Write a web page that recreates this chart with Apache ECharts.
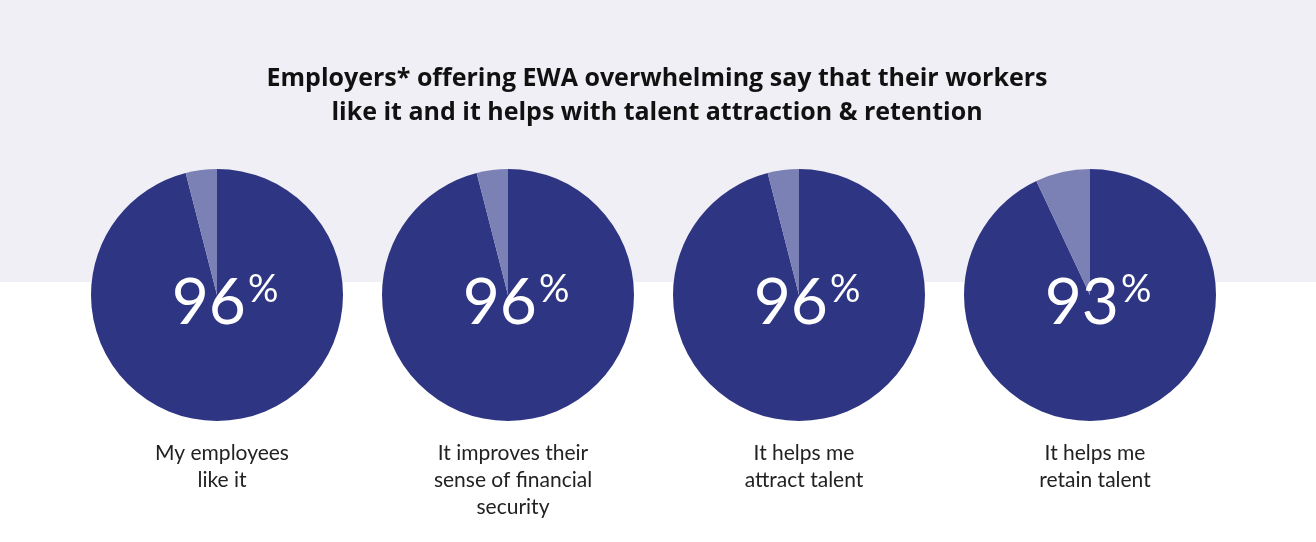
<!DOCTYPE html>
<html>
<head>
<meta charset="utf-8">
<script src="https://cdn.jsdelivr.net/npm/echarts@6/dist/echarts.min.js"></script>
<style>
  html, body { margin: 0; padding: 0; background: #fff; }
  #chart { width: 1316px; height: 542px; }
</style>
</head>
<body>
<div id="chart"></div>
<script>
const categories = ['My employees\nlike it', 'It improves their\nsense of financial\nsecurity', 'It helps me\nattract talent', 'It helps me\nretain talent']
const agree = [96, 96, 96, 93]
const rest = [4, 4, 4, 7]

const centersX = [217, 508, 799, 1090]
const centerY = 295
const darkColor = '#2e3582'
const lightColor = '#7b80b5'
const fontFamily = 'Lato, "Open Sans", sans-serif'

const chart = echarts.init(document.getElementById('chart'))

const series = categories.map((name, i) => ({
  type: 'pie',
  center: [centersX[i], centerY],
  radius: [0, 126],
  startAngle: 90,
  clockwise: true,
  silent: true,
  z: 2,
  labelLine: { show: false },
  data: [
    {
      value: agree[i],
      name: name,
      itemStyle: { color: darkColor },
      label: {
        show: true,
        position: 'center',
        offset: [8, 8],
        formatter: '{n|' + agree[i] + '}{p|%}',
        rich: {
          n: { fontSize: 64, fontWeight: 'normal', color: '#fff', fontFamily: fontFamily },
          p: { fontSize: 38, fontWeight: 'normal', color: '#fff', fontFamily: fontFamily, verticalAlign: 'top', padding: [0, 0, 0, 2] }
        }
      }
    },
    {
      value: rest[i],
      name: 'other',
      itemStyle: { color: lightColor },
      label: { show: false }
    }
  ]
}))

const titles = [{
  text: 'Employers* offering EWA overwhelming say that their workers\nlike it and it helps with talent attraction & retention',
  left: 652,
  top: 57,
  textAlign: 'center',
  textStyle: { fontSize: 25, fontWeight: 'bold', color: '#111', fontFamily: '"Open Sans", sans-serif', lineHeight: 34 }
}].concat(categories.map((name, i) => ({
  text: name,
  left: centersX[i],
  top: 435,
  textAlign: 'center',
  textStyle: { fontSize: 21, fontWeight: 'normal', color: '#222', fontFamily: fontFamily, lineHeight: 27 }
})))

chart.setOption({
  backgroundColor: '#fff',
  animation: false,
  title: titles,
  graphic: [{
    type: 'rect',
    z: 0,
    silent: true,
    shape: { x: 0, y: 0, width: 1316, height: 282 },
    style: { fill: '#f0eff5' }
  }],
  series: series
})
</script>
</body>
</html>
